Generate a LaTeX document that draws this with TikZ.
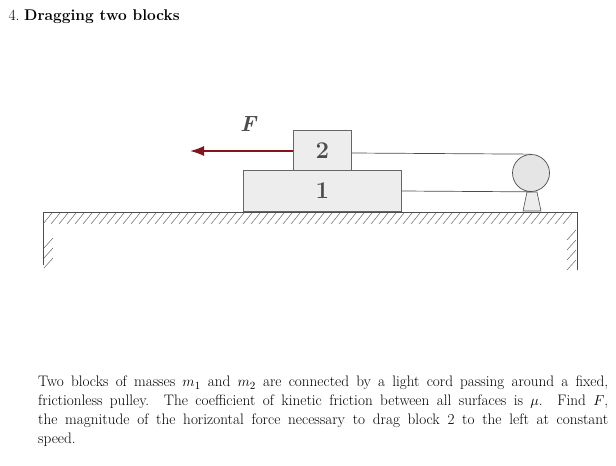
\documentclass[tikz,border=0pt]{standalone}
\usetikzlibrary{arrows.meta}
\begin{document}
\begin{tikzpicture}[x=1pt,y=-1pt,
 blk/.style={draw=black!60,fill=black!7,line width=0.7pt,inner sep=0},
 cord/.style={draw=black!70,line width=0.7pt},
 hatch/.style={draw=black!60,line width=0.5pt}]
\useasboundingbox (0,0) rectangle (616,466);
\node[anchor=base west,font=\fontsize{15.5}{17}\selectfont] (title) at (5,20) {4.\ \textbf{Dragging two blocks}};
% ground
\draw[line width=0.8pt,black!70] (43,265) -- (43,212) -- (577,212) -- (577,270);
\foreach \x in {52,60,...,577} \draw[hatch] (\x,213) -- (\x-9,224);
\foreach \y in {238,248,258} \draw[hatch] (53,\y) -- (44,\y+10);
\foreach \y in {230,240,250,260} \draw[hatch] (576,\y) -- (567,\y+10);
% blocks
\node[blk,minimum width=158,minimum height=41,anchor=north west] (b1) at (243,170) {};
\node[blk,minimum width=58,minimum height=40,anchor=north west] (b2) at (293,130) {};
\node[font=\fontsize{24}{24}\selectfont\bfseries,text=black!70] at (b1.center) {1};
\node[font=\fontsize{24}{24}\selectfont\bfseries,text=black!70] at (b2.center) {2};
% pulley
\draw[black!70,fill=black!7,line width=0.6pt] (527,192) -- (523,211) -- (541,211) -- (537,192) -- cycle;
\node[circle,draw=black!70,fill=black!10,line width=0.7pt,minimum size=37,inner sep=0] (p) at (531,173) {};
\draw[cord] (b2.east |- 0,153) -- (p.north) ;
\draw[cord] (b1.east |- 0,191) -- (p.south);
% force
\coordinate (ftip) at (190,151);
\draw[line width=1.6pt,color={rgb,255:red,130;green,20;blue,30},-{Latex[length=14pt,width=10pt]}] (b2.west |- 0,151) -- (ftip);
\node[font=\fontsize{22}{22}\selectfont\bfseries\itshape,text=black!70] (F) at (248,124) {F};
% text
\node[anchor=north west,text width=570,align=justify,inner sep=0,font=\fontsize{15.2}{19}\selectfont] (txt) at (38,376)
{Two blocks of masses $m_1$ and $m_2$ are connected by a light cord passing around a fixed,\linebreak frictionless pulley. The coefficient of kinetic friction between all surfaces is $\mu$. Find $F$,\linebreak the magnitude of the horizontal force necessary to drag block 2 to the left at constant\linebreak speed.};
\end{tikzpicture}
\end{document}
